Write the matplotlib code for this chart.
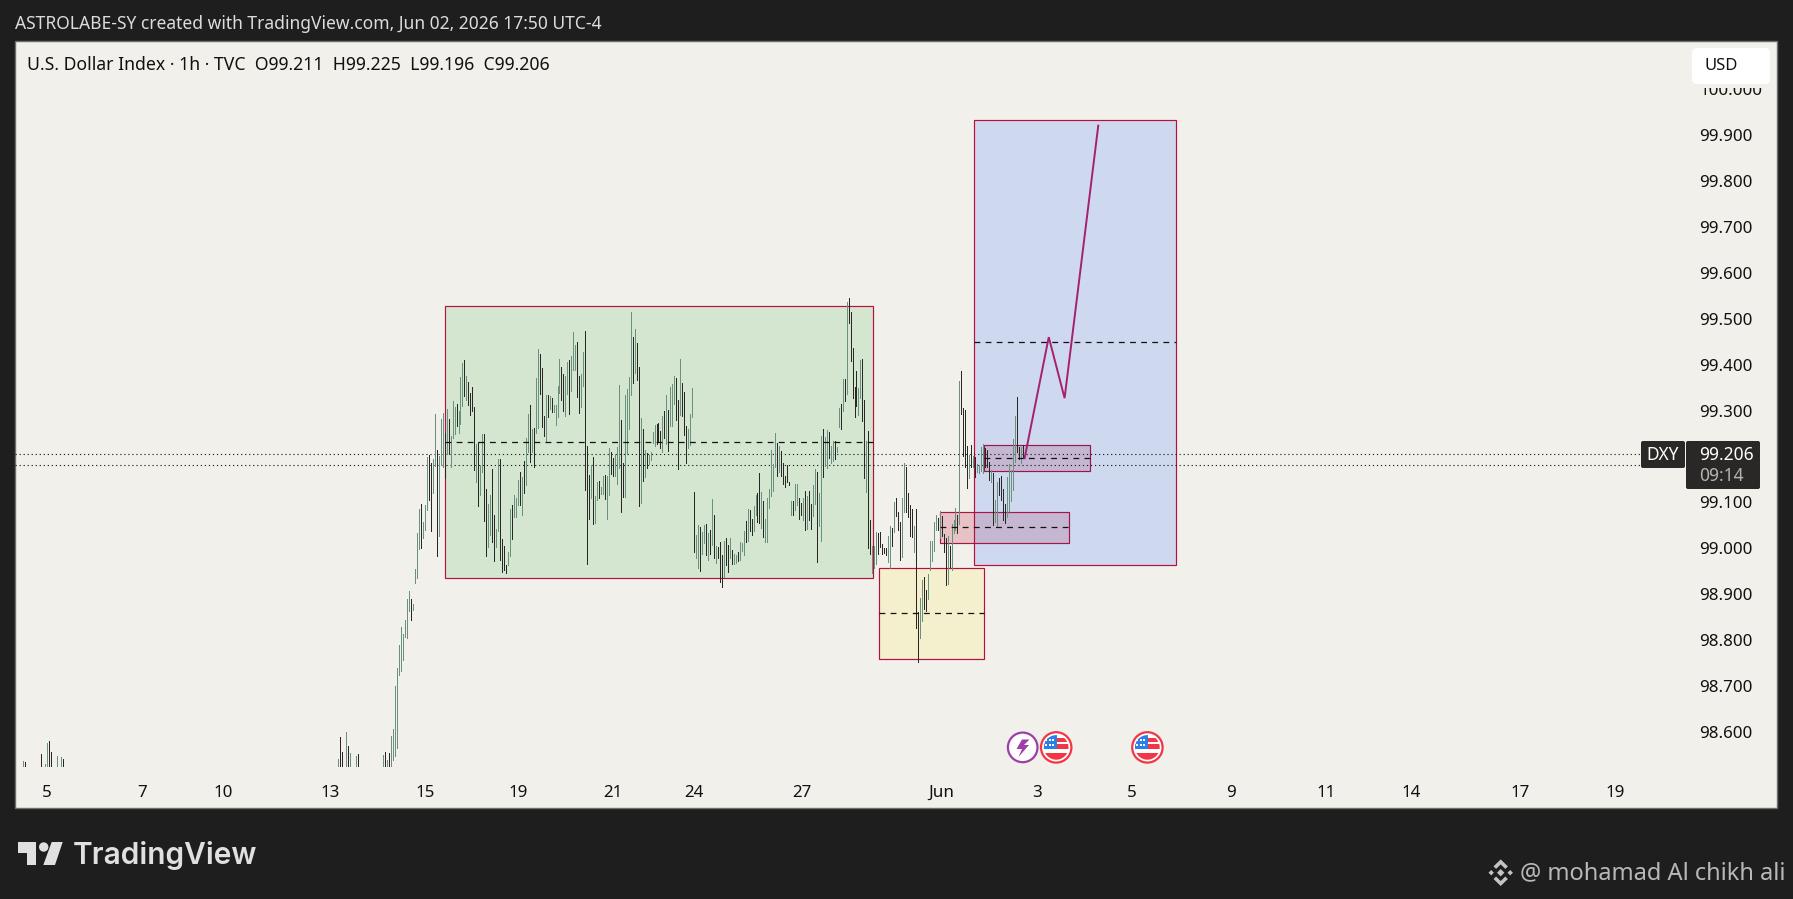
import matplotlib
matplotlib.use("Agg")
import matplotlib.pyplot as plt
import matplotlib.transforms as mtrans
from matplotlib.patches import Rectangle, Circle, Polygon, FancyBboxPatch
import numpy as np

plt.rcParams['lines.scale_dashes'] = False
plt.rcParams['font.family'] = ['Noto Sans', 'DejaVu Sans']

# ---------- data ----------
highs = [
 98.549,98.556,98.538,98.554,98.591,98.606,98.700,98.739,98.789,98.828,
 98.813,98.844,98.889,98.907,98.889,98.878,98.955,99.032,99.086,99.096,
 99.057,99.094,99.199,99.203,99.186,99.195,99.293,99.214,99.200,99.282,
 99.295,99.251,99.304,99.282,99.245,99.321,99.308,99.314,99.299,99.373,
 99.404,99.411,99.375,99.362,99.338,99.351,99.308,99.227,99.231,99.182,
 99.249,99.249,99.129,99.096,99.116,99.172,99.072,99.042,99.195,99.194,
 99.019,99.005,98.963,98.992,99.086,99.094,99.116,99.109,99.149,99.166,
 99.155,99.190,99.240,99.293,99.312,99.260,99.262,99.371,99.434,99.424,
 99.393,99.288,99.334,99.334,99.332,99.328,99.312,99.312,99.354,99.413,
 99.395,99.380,99.376,99.406,99.411,99.419,99.472,99.443,99.450,99.376,
 99.380,99.428,99.474,99.223,99.160,99.182,99.199,99.114,99.144,99.147,
 99.134,99.158,99.160,99.158,99.219,99.210,99.197,99.206,99.221,99.356,
 99.280,99.186,99.334,99.347,99.373,99.515,99.461,99.478,99.448,99.395,
 99.284,99.260,99.214,99.208,99.203,99.210,99.253,99.269,99.271,99.273,
 99.256,99.288,99.299,99.334,99.301,99.352,99.358,99.376,99.371,99.323,
 99.413,99.360,99.341,99.267,99.260,99.293,99.349,99.123,99.029,99.051,
 99.046,99.035,99.051,99.053,99.033,99.040,99.107,99.072,99.005,99.003,
 99.014,98.985,99.016,99.022,99.007,99.022,98.996,98.987,98.985,98.992,
 99.014,99.011,99.038,99.059,99.086,99.083,99.064,99.092,99.116,99.120,
 99.164,99.123,99.103,99.064,99.110,99.129,99.214,99.184,99.251,99.229,
 99.223,99.212,99.186,99.158,99.182,99.144,99.103,99.103,99.140,99.140,
 99.110,99.099,99.110,99.125,99.114,99.125,99.096,99.138,99.173,99.166,
 99.120,99.245,99.260,99.243,99.258,99.253,99.223,99.234,99.234,99.221,
 99.306,99.315,99.369,99.369,99.537,99.546,99.515,99.437,99.352,99.387,
 99.349,99.411,99.413,99.323,99.234,99.256,99.062,99.005,99.005,99.035,
 99.033,99.035,99.009,99.000,99.000,99.027,99.048,99.044,99.101,99.109,
 99.079,99.057,99.109,99.185,99.177,99.120,99.094,99.085,99.048,99.085,
 98.861,98.891,98.931,98.937,98.909,98.944,99.016,99.016,99.057,99.072,
 99.066,99.081,99.070,99.031,99.022,99.027,99.005,99.053,99.061,99.088,
 99.072,99.365,99.386,99.306,99.301,99.223,99.203,99.225,99.201,99.199,
 99.184,99.179,99.221,99.227,99.218,99.214,99.188,99.170,99.164,99.105,
 99.144,99.153,99.157,99.129,99.096,99.155,99.184,99.170,99.238,99.288,
 99.330,99.221,99.221,99.225]
lows = [
 98.50,98.50,98.50,98.50,98.50,98.538,98.546,98.565,98.724,98.732,
 98.756,98.806,98.804,98.863,98.844,98.865,98.925,98.936,98.999,99.001,
 99.023,99.040,99.084,99.105,99.038,99.120,99.179,98.982,99.027,99.182,
 99.178,99.153,99.205,99.205,99.176,99.241,99.248,99.267,99.252,99.270,
 99.310,99.332,99.323,99.313,99.291,99.298,99.171,99.145,99.093,99.115,
 99.167,99.060,98.982,99.003,99.029,99.014,98.973,99.003,99.038,98.974,
 98.947,98.953,98.945,98.963,98.984,99.021,99.067,99.068,99.094,99.095,
 99.072,99.121,99.138,99.210,99.187,99.210,99.178,99.250,99.261,99.337,
 99.265,99.245,99.234,99.287,99.303,99.297,99.296,99.269,99.287,99.339,
 99.322,99.299,99.288,99.336,99.293,99.343,99.389,99.389,99.330,99.295,
 99.308,99.354,99.126,98.966,99.064,99.110,99.053,99.055,99.105,99.110,
 99.118,99.118,99.107,99.064,99.116,99.162,99.158,99.158,99.140,99.175,
 99.079,99.112,99.112,99.206,99.260,99.334,99.360,99.382,99.367,99.092,
 99.099,99.147,99.155,99.175,99.184,99.192,99.229,99.223,99.227,99.232,
 99.219,99.210,99.240,99.227,99.212,99.267,99.267,99.315,99.280,99.173,
 99.291,99.288,99.247,99.186,99.219,99.225,99.286,98.992,98.979,98.957,
 98.950,98.987,99.011,98.985,98.974,98.987,99.007,98.979,98.968,98.979,
 98.926,98.915,98.937,98.963,98.948,98.979,98.966,98.966,98.968,98.972,
 98.974,98.994,98.985,99.014,99.016,99.038,99.029,99.038,99.072,99.057,
 99.055,99.044,99.024,99.014,99.014,99.088,99.114,99.125,99.177,99.158,
 99.166,99.158,99.140,99.134,99.144,99.138,99.072,99.072,99.083,99.094,
 99.064,99.072,99.062,99.040,99.042,99.062,99.042,99.070,99.096,98.970,
 99.048,99.016,99.155,99.179,99.175,99.197,99.186,99.190,99.195,99.210,
 99.264,99.260,99.299,99.321,99.336,99.491,99.408,99.328,99.286,99.310,
 99.291,99.328,99.277,99.153,99.123,99.000,98.987,98.946,98.957,98.966,
 98.987,99.003,98.987,98.989,98.985,98.970,98.956,99.005,99.035,99.070,
 99.040,98.974,98.981,99.079,99.079,99.068,99.027,99.024,98.992,98.826,
 98.752,98.804,98.841,98.867,98.863,98.889,98.952,98.972,98.994,99.040,
 99.040,99.022,99.027,98.992,98.920,98.922,98.959,98.952,99.033,99.040,
 99.033,99.053,99.293,99.201,99.177,99.131,99.153,99.177,99.177,99.155,
 99.166,99.164,99.168,99.164,99.177,99.178,99.149,99.144,99.051,99.057,
 99.048,99.116,99.105,99.061,99.055,99.068,99.077,99.103,99.127,99.188,
 99.210,99.194,99.186,99.196]
directions = (
 "gkgkgggggg" "ggggkggggk" "gggkkggkgg" "gkgkgggkgg" "gkgkkkkgkg"
 "gkkggkkggk" "kkkggkgggk" "gkggkgkggk" "kkgkgkgggg" "kkggkgggkk"
 "ggkkkgkggk" "ggkggkkggg" "kkggggkgkk" "gkgkggggkk" "kgkgkgggkk"
 "gkkkgggkgg" "kggkgkgkgk" "kkgkkgkggk" "gggkgkkggk" "kgkggggggk"
 "gkkkkkgkgg" "kkgkgkkggk" "ggkggkggkg" "gkgkgkkkkk" "ggkkgkkggg"
 "kkkkkggkgk" "kkggkkkkgk" "kggkkggggg" "kgkkkgkggg" "kgkkkkgkgk"
 "ggggkkkgkg" "gkkkkggggg" "kkgk")

# Earlier bars whose lows fall below the visible pane
early_index = [-181.8,-180.8,-172.7,-170.7,-169.7,-168.7,-167.7,-164.6,-162.6,-161.6,
               -22.7,-21.7,-20.7,-18.7,-17.7,-16.7,-13.7,-12.7]
early_highs = [98.536,98.533,98.551,98.529,98.575,98.580,98.556,98.547,98.545,98.540,
               98.540,98.588,98.556,98.599,98.569,98.553,98.547,98.551]
early_dirs = "gkkggkkggk" "gkkgkggk"
early_low = 98.50

time_ticks = [-170,-121.9,-81,-26.9,21.1,68,116,156.9,211.3,281.7,330.2,377.8,428.1,476.1,519,574.1,622.1]
time_labels = ["5","7","10","13","15","19","21","24","27","Jun","3","5","9","11","14","17","19"]
price_ticks = [98.6,98.7,98.8,98.9,99.0,99.1,99.2,99.3,99.4,99.5,99.6,99.7,99.8,99.9,100.0]
# 99.200 is hidden behind the current-price tag in the source
price_labels = ["98.600","98.700","98.800","98.900","99.000","99.100","","99.300","99.400",
                "99.500","99.600","99.700","99.800","99.900","100.000"]

# zones: x0, x1, low, high, mid
green_zone  = (31.3, 247.5, 98.934, 99.527, 99.231)
yellow_zone = (250.5, 303.5, 98.758, 98.956, 98.858)
blue_zone   = (298.5, 400.5, 98.963, 99.933, 99.449)
pink_low    = (281.3, 346.5, 99.011, 99.078, 99.046)
pink_high   = (303.5, 357.1, 99.168, 99.224, 99.196)
path_x = [323.9, 336.1, 344.1, 361.1]
path_y = [99.196, 99.460, 99.327, 99.921]
last_price = 99.206
prev_level = 99.182

# ---------- colours ----------
BG = '#1e1e1e'; PANE = '#f2f0eb'; UP = '#6a917d'; DN = '#2a2826'; EDGE = '#b80f3e'

W, H = 1793, 899
fig = plt.figure(figsize=(W/100, H/100), dpi=100, facecolor=BG)
px = mtrans.Affine2D().scale(1, -1).translate(0, H)

fig.add_artist(Rectangle((15, 41), 1762, 767, transform=px, fc=PANE, ec='#6e6e6a', lw=1.0, zorder=-5))

ax = fig.add_axes([15/W, 1-767/H, 1762/W, (767-41)/H])
ax.patch.set_alpha(0)
for s in ax.spines.values():
    s.set_visible(False)
ax.set_xlim(-186.0, 703.9)
ax.set_ylim(98.523, 100.1055)

def zone(z, fc, alpha=1.0, ec=EDGE, zfill=1.0):
    x0, x1, lo, hi, mid = z
    ax.add_patch(Rectangle((x0, lo), x1-x0, hi-lo, fc=fc, alpha=alpha, ec='none', zorder=zfill))
    ax.add_patch(Rectangle((x0, lo), x1-x0, hi-lo, fc='none', ec=ec, lw=0.85, zorder=1.5))
    ax.plot([x0, x1], [mid, mid], color='#111111', lw=0.9, ls=(0, (4.2, 3.8)), zorder=4, solid_capstyle='butt')

zone(green_zone, '#d5e6d0')
zone(yellow_zone, '#f4efcc')
zone(pink_low, '#e6c2c5', ec='#a8134a', zfill=1.0)
zone(pink_high, '#e6c2c5', ec='#98164f', zfill=1.0)
zone(blue_zone, '#6694fb', alpha=0.25, zfill=1.1)

# bars
idx = np.arange(len(highs))
up = np.array([d == 'g' for d in directions])
hi = np.array(highs); lo = np.array(lows)
bar_kw = dict(lw=0.72, zorder=3, antialiased=False)
ax.vlines(idx[up], lo[up], hi[up], color=UP, **bar_kw)
ax.vlines(idx[~up], lo[~up], hi[~up], color=DN, **bar_kw)
e_x = np.array(early_index); e_h = np.array(early_highs)
e_up = np.array([d == 'g' for d in early_dirs])
ax.vlines(e_x[e_up], early_low, e_h[e_up], color=UP, **bar_kw)
ax.vlines(e_x[~e_up], early_low, e_h[~e_up], color=DN, **bar_kw)

# price levels
dotted = (0, (0.9, 2.0))
for lvl in (last_price, prev_level):
    ax.plot([-186.0, 635], [lvl, lvl], color='#222222', lw=0.8, ls=dotted, zorder=2)

# projection path
ax.plot(path_x, path_y, color='#a5206f', lw=1.4, zorder=5, solid_joinstyle='miter')

# axes text
ax.set_xticks(time_ticks)
ax.set_xticklabels(time_labels, fontsize=12.2, color='#111111')
ax.set_yticks(price_ticks)
ax.set_yticklabels(price_labels, fontsize=12.2, color='#111111')
ax.tick_params(axis='x', length=0, pad=13)
ax.tick_params(axis='y', length=0, pad=-56, labelleft=False, labelright=True, left=False, right=False)

# header and legend
fig.text(15, 24, "ASTROLABE-SY created with TradingView.com, Jun 02, 2026 17:50 UTC-4",
         transform=px, color='#dcdcdc', fontsize=12.55, va='center', ha='left')
fig.text(27, 65, "U.S. Dollar Index · 1h · TVC  O99.211  H99.225  L99.196  C99.206",
         transform=px, color='#111111', fontsize=12.7, va='center', ha='left')

# USD box with its pale halo
fig.add_artist(Rectangle((1690, 46), 82, 41.5, transform=px, fc=PANE, ec='none', zorder=2.9))
fig.add_artist(FancyBboxPatch((1695, 51), 72, 30, boxstyle="round,pad=3,rounding_size=5", transform=px,
                              fc='white', ec='none', zorder=3))
fig.text(1705, 66, "USD", transform=px, color='#111111', fontsize=12, va='center', ha='left', zorder=4)

# current price tags
fig.add_artist(FancyBboxPatch((1642, 442), 42, 25, boxstyle="round,pad=1,rounding_size=2", transform=px,
                              fc=DN, ec='none', zorder=3))
fig.add_artist(FancyBboxPatch((1687, 442), 72, 46, boxstyle="round,pad=1,rounding_size=2", transform=px,
                              fc=DN, ec='none', zorder=3))
fig.text(1663, 455, "DXY", transform=px, color='white', fontsize=12.5, va='center', ha='center', zorder=4, fontweight='medium')
fig.text(1726, 455, "99.206", transform=px, color='white', fontsize=12.5, va='center', ha='center', zorder=4, fontweight='medium')
fig.text(1721, 476, "09:14", transform=px, color='#b5b5b2', fontsize=12.5, va='center', ha='center', zorder=4)

# event icons
FLAG_RED = '#f23645'; FLAG_BLUE = '#2a7fe8'
def flag(cx, cy):
    fig.add_artist(Circle((cx, cy), 15.2, transform=px, fc='white', ec=FLAG_RED, lw=1.6, zorder=3))
    clip = Circle((cx, cy), 12.3, transform=px, fc='none', ec='none')
    fig.add_artist(clip)
    for yy, hh in [(cy-9, 3.4), (cy-3, 5), (cy+6, 6.5)]:
        r = Rectangle((cx-13, yy), 26, hh, transform=px, fc=FLAG_RED, ec='none', zorder=3.1)
        fig.add_artist(r); r.set_clip_path(clip)
    r = Rectangle((cx-13, cy-13), 13.3, 15, transform=px, fc=FLAG_BLUE, ec='none', zorder=3.2)
    fig.add_artist(r); r.set_clip_path(clip)
    for dy in (-8, -3.5):
        for dx in (-8, -4, 0-1):
            fig.add_artist(Rectangle((cx+dx-3, cy+dy), 1.8, 1.8, transform=px, fc='white', ec='none', zorder=3.3))

flag(1056.2, 747.4)
flag(1147.4, 747.4)
fig.add_artist(Circle((1022.7, 747.4), 14.8, transform=px, fc='white', ec='#9c3fa8', lw=1.6, zorder=3))
fig.add_artist(Polygon([(1029.5, 739.5), (1022, 739.5), (1016.5, 749), (1022, 749), (1018.5, 757), (1029, 745), (1024, 745)],
                       closed=True, transform=px, fc='#9c3fa8', ec='none', zorder=3.2))

# TradingView logo
LOGO = '#e0e0e0'
fig.add_artist(Polygon([(18, 842), (36, 842), (36, 865), (27, 865), (27, 853), (18, 853)], closed=True,
                       transform=px, fc=LOGO, ec='none'))
fig.add_artist(Circle((43.7, 847), 4.7, transform=px, fc=LOGO, ec='none'))
fig.add_artist(Polygon([(51.7, 842), (62.7, 842), (55, 865), (43.3, 865)], closed=True,
                       transform=px, fc=LOGO, ec='none'))
fig.text(73, 856, "TradingView", transform=px, color=LOGO, fontsize=21.5, fontweight='semibold',
         family='Inter', va='center', ha='left')

# Watermark
WM = '#c4c4c4'
cx, cy = 1500.7, 872.7
for dx, r in [(0, 3.7), (-9.5, 2.7), (9.5, 2.7)]:
    fig.add_artist(Polygon([(cx+dx, cy-r), (cx+dx+r, cy), (cx+dx, cy+r), (cx+dx-r, cy)],
                           closed=True, transform=px, fc=WM, ec='none'))
for sgn in (-1, 1):
    fig.add_artist(Polygon([(cx, cy+sgn*13.3), (cx+7.2, cy+sgn*6.3), (cx+4.6, cy+sgn*3.8), (cx, cy+sgn*8.3),
                            (cx-4.6, cy+sgn*3.8), (cx-7.2, cy+sgn*6.3)],
                           closed=True, transform=px, fc=WM, ec='none'))
fig.text(1520, 873, "@ mohamad Al chikh ali", transform=px, color='#b8b8b8', fontsize=17, va='center', ha='left')

fig.savefig("out.png", dpi=100, facecolor=BG)
